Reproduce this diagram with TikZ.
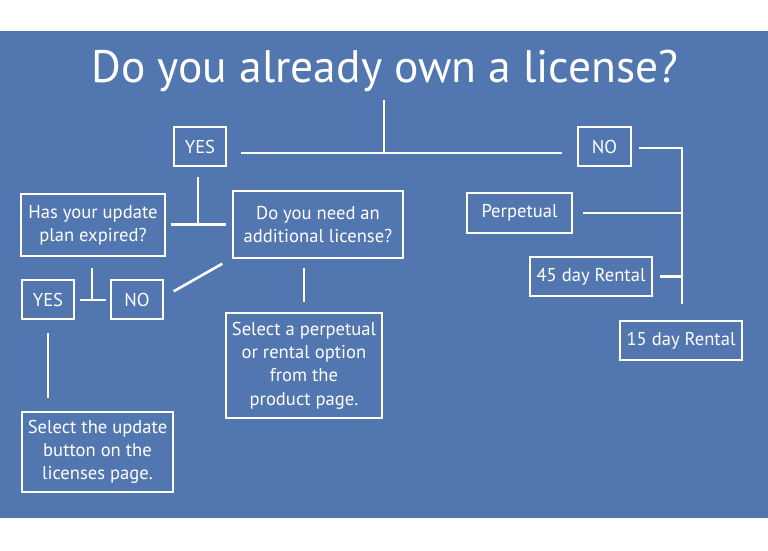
\documentclass[tikz,border=0pt]{standalone}
\usepackage{fontspec}
\setmainfont{PT Sans}
\definecolor{bg}{RGB}{82,119,176}
\tikzset{
  box/.style={draw=white, line width=1.4pt, fill=bg, text=white, inner sep=0pt, align=center, font=\fontsize{18.6}{23.3}\selectfont},
  conn/.style={draw=white, line width=2.6pt},
}
\begin{document}
\begin{tikzpicture}[x=1pt,y=-1pt]
\useasboundingbox (0,0) rectangle (768,550);
\fill[white] (0,0) rectangle (768,550);
\fill[bg] (0,31) rectangle (768,518);
\node[anchor=base, text=white, font=\fontsize{45.5}{50}\selectfont, inner sep=0pt] (title) at (385,82.3) {Do you already own a license?};
\node[box, minimum width=52pt, minimum height=39pt] (yes1) at (200,146.5) {YES};
\node[box, minimum width=53pt, minimum height=39pt] (no1) at (604.5,146.5) {NO};
\node[box, minimum width=144pt, minimum height=62pt] (has) at (93,225) {Has your update\\plan expired?};
\node[box, minimum width=170pt, minimum height=67pt] (need) at (318,224.5) {Do you need an\\additional license?};
\node[box, minimum width=105pt, minimum height=40pt] (perp) at (519.5,213) {Perpetual};
\node[box, minimum width=122pt, minimum height=39pt] (d45) at (591,276.5) {45 day Rental};
\node[box, minimum width=122pt, minimum height=39pt] (d15) at (681,340.5) {15 day Rental};
\node[box, minimum width=52pt, minimum height=39pt] (yes2) at (48,299.5) {YES};
\node[box, minimum width=52pt, minimum height=39pt] (no2) at (137,299.5) {NO};
\node[box, minimum width=156pt, minimum height=105pt] (selp) at (304,365.5) {Select a perpetual\\or rental option\\from the\\ product page.};
\node[box, minimum width=151pt, minimum height=80pt] (selu) at (97.5,452) {Select the update\\button on the\\licenses page.};
% connectors
\coordinate (stemtop) at (384,100);
\coordinate (stembot) at (384,153);
\draw[conn] (stemtop) -- (stembot);
\draw[conn] ([xshift=14pt,yshift=-6.5pt]yes1.east) -- ([xshift=-15pt,yshift=-6.5pt]no1.west);
\coordinate (rbar) at (682,148);
\coordinate (rbarbot) at (682,304);
\draw[conn] ([xshift=7pt,yshift=-1.5pt]no1.east) -- (rbar) -- (rbarbot);
\draw[conn] ([xshift=10pt]perp.east) -- (perp.east -| rbar);
\draw[conn] ([xshift=7pt]d45.east) -- (d45.east -| rbar);
% T under YES
\coordinate (t1a) at (198,177);
\coordinate (t1b) at (198,224.3);
\draw[conn] (t1a) -- (t1b);
\draw[conn] ([xshift=5.5pt,yshift=0.7pt]has.east) -- ([xshift=-6pt,yshift=0.2pt]need.west);
% T under Has
\coordinate (t2a) at (92,268);
\coordinate (t2b) at (92,300);
\draw[conn] (t2a) -- (t2b);
\draw[conn] ([xshift=5pt,yshift=-0.5pt]yes2.east) -- ([xshift=-4pt,yshift=-0.5pt]no2.west);
% diagonal
\draw[conn] ([xshift=10pt,yshift=-12pt]no2.north east) -- ([xshift=-10pt,yshift=-5pt]need.south west);
% under need
\draw[conn] ([xshift=-14pt,yshift=-9pt]need.south) -- ([yshift=10pt]selp.north);
% under yes2
\draw[conn] ([yshift=-13pt]yes2.south) -- ([yshift=13pt,xshift=-49.5pt]selu.north);
\end{tikzpicture}
\end{document}
